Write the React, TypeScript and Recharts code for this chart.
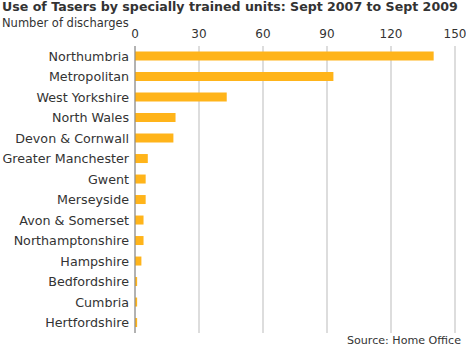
import React from "react";
import { BarChart, Bar, XAxis, YAxis, CartesianGrid } from "recharts";

const categories = [
  "Northumbria",
  "Metropolitan",
  "West Yorkshire",
  "North Wales",
  "Devon & Cornwall",
  "Greater Manchester",
  "Gwent",
  "Merseyside",
  "Avon & Somerset",
  "Northamptonshire",
  "Hampshire",
  "Bedfordshire",
  "Cumbria",
  "Hertfordshire",
];
const discharges = [140, 93, 43, 19, 18, 6, 5, 5, 4, 4, 3, 1, 1, 1];
const xTicks = [0, 30, 60, 90, 120, 150];

const data = categories.map((name, i) => ({ name, value: discharges[i] }));

const FONT = "Verdana, 'DejaVu Sans', sans-serif";

export default function App() {
  return (
    <div
      style={{
        position: "absolute",
        left: 0,
        top: 0,
        width: 466,
        height: 350,
        background: "#fff",
        fontFamily: FONT,
        overflow: "hidden",
      }}
    >
      <div
        style={{
          position: "absolute",
          left: 2,
          top: -1,
          fontSize: 12.6,
          fontWeight: "bold",
          color: "#333",
          whiteSpace: "nowrap",
        }}
      >
        Use of Tasers by specially trained units: Sept 2007 to Sept 2009
      </div>
      <div
        style={{
          position: "absolute",
          left: 2,
          top: 16,
          fontSize: 11.5,
          color: "#333",
          whiteSpace: "nowrap",
        }}
      >
        Number of discharges
      </div>
      <div style={{ position: "absolute", left: 0, top: 0 }}>
        <BarChart
          width={466}
          height={350}
          data={data}
          layout="vertical"
          margin={{ top: 26, right: 11, bottom: 17, left: 0 }}
          barCategoryGap="27%"
        >
          <CartesianGrid horizontal={false} stroke="#bbbbbb" />
          <XAxis
            type="number"
            orientation="top"
            domain={[0, 150]}
            ticks={xTicks}
            axisLine={false}
            tickLine={false}
            height={20}
            interval={0}
            tick={{ fill: "#333", fontSize: 12, fontFamily: FONT }}
          />
          <YAxis
            type="category"
            dataKey="name"
            width={135}
            axisLine={{ stroke: "#888888" }}
            tickLine={false}
            interval={0}
            tick={{ fill: "#333", fontSize: 12.7, fontFamily: FONT, dx: 2 }}
          />
          <Bar dataKey="value" fill="#FFB41A" isAnimationActive={false} />
        </BarChart>
      </div>
      <div
        style={{
          position: "absolute",
          right: 5,
          top: 334,
          fontSize: 11.1,
          color: "#333",
          whiteSpace: "nowrap",
        }}
      >
        Source: Home Office
      </div>
    </div>
  );
}
